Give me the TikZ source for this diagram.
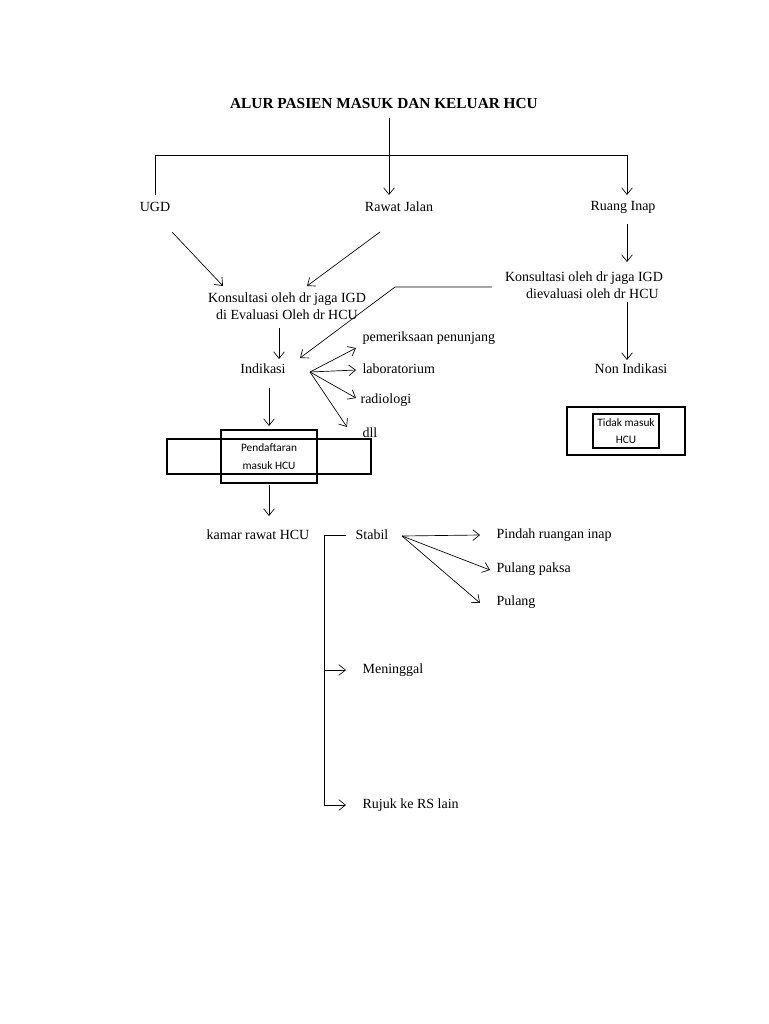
\documentclass[tikz,border=0pt]{standalone}
\usepackage{fontspec}
\setmainfont{Liberation Serif}
\newfontfamily\boxfont{Carlito}
\usetikzlibrary{arrows.meta}
\begin{document}
\begin{tikzpicture}[x=0.75pt,y=-0.75pt,
  t/.style={inner sep=1pt,font=\fontsize{10.5}{13}\selectfont},
  tl/.style={t,anchor=west},
  bx/.style={draw,line width=1.6pt,align=center,font=\boxfont\fontsize{8.5}{13}\selectfont},
  ar/.style={-{Straight Barb[length=5pt,width=8pt]},line width=0.5pt}]
\useasboundingbox (0,0) rectangle (768,1024);
\node[t,font=\bfseries\fontsize{11.5}{13}\selectfont] (title) at (384,103) {ALUR PASIEN MASUK DAN KELUAR HCU};
\node[t] (ugd) at (155,207) {UGD};
\node[t] (rj) at (399,207) {Rawat Jalan};
\node[t] (ri) at (623,207) {Ruang Inap};
\node[t,align=center] (k1) at (287,306) {Konsultasi oleh dr jaga IGD\\di Evaluasi Oleh dr HCU};
\node[t,align=center] (k2) at (584,285) {Konsultasi oleh dr jaga IGD\\\hspace*{1.2em}dievaluasi oleh dr HCU};
\node[t] (ind) at (263,369) {Indikasi};
\node[tl] (pp) at (361,338) {pemeriksaan penunjang};
\node[tl] (lab) at (361,369) {laboratorium};
\node[tl] (rad) at (359,400) {radiologi};
\node[tl] (dll) at (361,433) {dll};
\node[bx,minimum width=96\pgflinewidth] (pend) at (269,456.5) {Pendaftaran\\masuk HCU};
\node[t] (ni) at (631,369) {Non Indikasi};
\node[bx] (tm) at (626,431) {Tidak masuk\\HCU};
\node[t] (kam) at (258,535) {kamar rawat HCU};
\node[t] (st) at (372,535) {Stabil};
\node[tl] (pind) at (495,535) {Pindah ruangan inap};
\node[tl] (pp2) at (495,569) {Pulang paksa};
\node[tl] (pul) at (495,602) {Pulang};
\node[tl] (men) at (361,670) {Meninggal};
\node[tl] (ruj) at (361,805) {Rujuk ke RS lain};
\path[use as bounding box] (0,0);
% fix boxes sizes
\draw[line width=1.6pt] (221,430) rectangle (317,483);
\draw[line width=1.6pt] (567,407) rectangle (685,455);
\draw[ar] (389,118) -- (389,195);
\draw[ar] (155,195) -- (155,155) -- (627,155) -- (627,195);
\draw[ar] (172,232) -- (223,286);
\draw[ar] (380,232) -- (307,286);
\draw[ar] (627,224) -- (627,262);
\draw[ar] (492,287) -- (395,287) -- (300,358);
\draw[ar] (279,328) -- (279,359);
\draw[ar] (310,372) -- (356,348);
\draw[ar] (310,372) -- (356,370);
\draw[ar] (310,372) -- (356,398);
\draw[ar] (310,372) -- (347,427);
\draw[ar] (269,388) -- (269,426);
\draw[ar] (627,302) -- (627,360);
\draw[ar] (269,485) -- (269,516);
\draw[ar] (324,670) -- (346,670);
\draw[ar] (346,535) -- (324,535) -- (324,805) -- (346,805);
\draw[ar] (402,536) -- (480,535);
\draw[ar] (402,536) -- (490,570);
\draw[ar] (402,536) -- (480,603);
\end{tikzpicture}
\end{document}
